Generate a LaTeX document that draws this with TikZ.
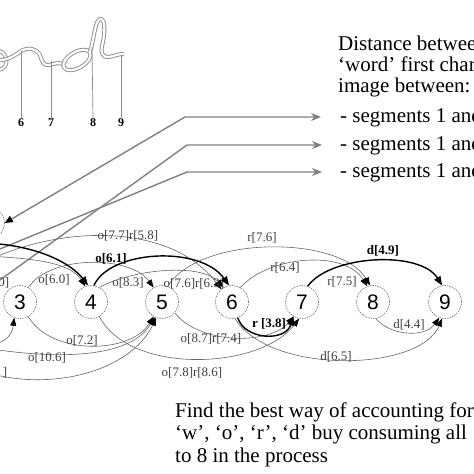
\documentclass[tikz,border=0pt]{standalone}
\usepackage{fontspec}
\setmainfont{Liberation Serif}
\newfontfamily\numfont{Liberation Sans}
\usetikzlibrary{arrows.meta}
\begin{document}
\begin{tikzpicture}[x=1pt,y=-1pt,
  stnode/.style={circle,draw=black!55,dash pattern=on 1.5pt off 1pt,line width=0.6pt,minimum size=33pt,inner sep=0pt,font=\numfont\fontsize{21}{21}\selectfont},
  best/.style={draw=black,line width=1.4pt,-{Triangle[length=9pt,width=7pt]}},
  alt/.style={draw=black!60,line width=0.6pt,-{Triangle[length=8pt,width=6pt,color=black]}},
  lbl/.style={font=\fontsize{13}{13}\selectfont,text=black!75,inner sep=0.5pt},
  blbl/.style={font=\bfseries\fontsize{13}{13}\selectfont,text=black,inner sep=0.5pt},
  ptr/.style={draw=black!50,line width=1.4pt,{Triangle[length=8pt,width=7pt,color=black]}-{Stealth[length=10pt,width=8pt]}},
  ptrb/.style={draw=black!50,line width=1.4pt,-{Stealth[length=10pt,width=8pt]}},
  hw/.style={draw=black!45,double=white,double distance=2.2pt,line width=0.9pt},
  cut/.style={draw=black!45,line width=0.7pt},
  cutlbl/.style={font=\bfseries\fontsize{12}{12}\selectfont,inner sep=0pt},
  txt/.style={font=\fontsize{21}{21}\selectfont,anchor=base west,inner sep=0pt}
]
\clip (0,0) rectangle (474,474);
\fill[white] (0,0) rectangle (474,474);

% handwriting
\draw[hw] (-2,70) .. controls (4,70) and (8,64) .. (6,58) .. controls (4,52) and (0,50) .. (-3,52);
\draw[hw] (0,60) .. controls (8,60) and (14,56) .. (21,51) .. controls (28,47) and (36,48) .. (40,55) .. controls (42,62) and (44,66) .. (49,65) .. controls (54,64) and (58,62) .. (63,64);
\draw[hw, rotate around={30:(77,60)}] (77,60) ellipse [x radius=15, y radius=8];
\draw[hw] (90,52) .. controls (94,40) and (95,20) .. (100,19) .. controls (106,18) and (105,35) .. (102,46) .. controls (100,52) and (103,58) .. (109,57) .. controls (114,56) and (118,54) .. (124,54);

% cut points
\node[cutlbl] (c6) at (21,123) {6};
\node[cutlbl] (c7) at (51,123) {7};
\node[cutlbl] (c8) at (93,123) {8};
\node[cutlbl] (c9) at (121,123) {9};
\coordinate (h6) at (21,51);
\coordinate (h7) at (51,61);
\coordinate (h8) at (92,47);
\coordinate (h9) at (121,55);
\draw[cut] (h6) -- (c6.north);
\draw[cut] (h7) -- (c7.north);
\draw[cut] (h8) -- (c8.north);
\draw[cut] (h9) -- (c9.north);

% text right
\node[txt] (r1) at (338,50) {Distance between the};
\node[txt] (r2) at (338,71) {‘word’ first character};
\node[txt] (r3) at (338,92) {image between:};
\node[txt] (r4) at (340,122) {- segments 1 and};
\node[txt] (r5) at (340,150) {- segments 1 and};
\node[txt] (r6) at (340,177) {- segments 1 and};

% text bottom
\node[txt] (b1) at (175,417) {Find the best way of accounting for};
\node[txt] (b2) at (175,439) {‘w’, ‘o’, ‘r’, ‘d’ buy consuming all};
\node[txt] (b3) at (175,462) {to 8 in the process};

% nodes
\node[stnode] (n2) at (-12,223) {};
\node[stnode] (n3) at (20,302) {3};
\node[stnode] (n4) at (91,302) {4};
\node[stnode] (n5) at (162,302) {5};
\node[stnode] (n6) at (232,302) {6};
\node[stnode] (n7) at (302,302) {7};
\node[stnode] (n8) at (373,302) {8};
\node[stnode] (n9) at (445,302) {9};

% off-picture ends
\coordinate (L1) at (-15,243);
\coordinate (L2) at (-15,262);
\coordinate (L4) at (-15,256);
\coordinate (L5) at (-15,345);
\coordinate (L6) at (-15,348);
\coordinate (L7) at (-15,372);
\coordinate (P2e) at (0,280);
\coordinate (P3e) at (0,249);

% pointer arrows
\coordinate (k1) at (185,117);
\coordinate (k2) at (187,145);
\coordinate (k3) at (187,172);
\coordinate (e1) at (321,117);
\coordinate (e2) at (322,145);
\coordinate (e3) at (322,172);
\draw[ptr] (n2.east) -- (k1) -- (e1);
\draw[ptrb] (P2e) -- (k2) -- (e2);
\draw[ptrb] (P3e) -- (k3) -- (e3);

% gray alternative edges (top)
\draw[alt] (L2) .. controls (60,225) and (170,222) .. (n6.130);
\node[lbl] at (128,236) {o[7.7]r[5.8]};
\draw[alt] (L4) .. controls (30,258) and (70,262) .. (n4.110);
\node[lbl] at (54,280) {o[6.0]};
\node[lbl,anchor=east] at (10,283) {0]};
\draw[alt] (n3.60) .. controls (50,255) and (130,255) .. (n5.120);
\node[lbl] at (128,283) {o[8.3]};
\draw[alt] (n4.60) .. controls (130,270) and (200,262) .. (n6.120);
\node[lbl] at (194,284) {o[7.6]r[6.3]};
\draw[alt] (n5.70) .. controls (200,235) and (340,235) .. (n8.100);
\node[lbl] at (262,238) {r[7.6]};
\draw[alt] (n6.60) .. controls (270,255) and (345,250) .. (n8.110);
\node[lbl] at (285,268) {r[6.4]};
\node[lbl] at (342,282) {r[7.5]};

% gray alternative edges (bottom)
\draw[alt] (L5) .. controls (5,345) and (12,335) .. (n3.-110);
\draw[alt] (n3.-60) .. controls (50,355) and (130,355) .. (n5.-120);
\node[lbl] at (82,341) {o[7.2]};
\draw[alt] (L6) .. controls (60,360) and (130,358) .. (n5.-115);
\node[lbl] at (47,358) {o[10.6]};
\draw[alt] (L7) .. controls (50,392) and (130,372) .. (n5.-110);
\node[lbl,anchor=east] at (8,373) {]};
\draw[alt] (n4.-60) .. controls (130,375) and (260,370) .. (n7.-100);
\node[lbl] at (192,373) {o[7.8]r[8.6]};
\draw[alt] (n5.-40) .. controls (200,345) and (270,345) .. (n7.-120);
\node[lbl] at (211,339) {o[8.7]r[7.4]};
\draw[alt] (n6.-80) .. controls (270,375) and (420,372) .. (n9.-100);
\node[lbl] at (336,357) {d[6.5]};
\draw[alt] (n8.-80) .. controls (390,336) and (425,338) .. (n9.-110);
\node[lbl] at (409,325) {d[4.4]};

% best path
\draw[best] (L1) .. controls (35,245) and (70,262) .. (n4.100);
\draw[best] (n4.80) .. controls (110,250) and (200,245) .. (n6.100);
\node[blbl] at (111,259) {o[6.1]};
\draw[best] (n6.-70) .. controls (245,340) and (285,342) .. (n7.-120);
\node[blbl] at (269,324) {r [3.8]};
\draw[best] (n7.70) .. controls (330,255) and (420,250) .. (n9.100);
\node[blbl] at (383,251) {d[4.9]};
\end{tikzpicture}
\end{document}
